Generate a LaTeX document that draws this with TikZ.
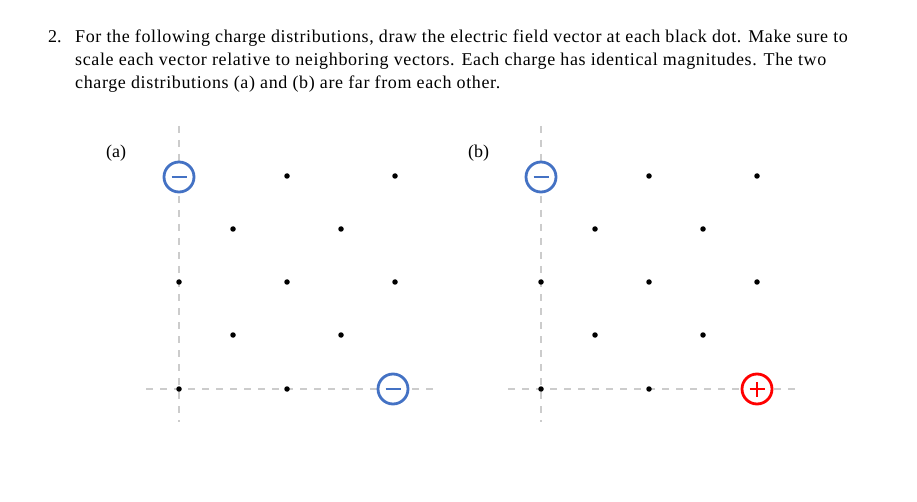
\documentclass[tikz,border=0pt]{standalone}
\usepackage{fontspec}
\setmainfont{Liberation Serif}
\definecolor{qblue}{HTML}{4472C4}
\begin{document}
\begin{tikzpicture}[x=1pt,y=-1pt,
  txt/.style={anchor=base west,inner sep=0,font=\fontsize{18}{20}\selectfont},
  dot/.style={circle,fill=black,inner sep=0,minimum size=5.5},
  guide/.style={draw=black!20,line width=1.6,dash pattern=on 7 off 7},
  negcharge/.style={circle,draw=qblue,line width=2.8,minimum size=30,inner sep=0,fill=white},
  poscharge/.style={circle,draw=red,line width=2.8,minimum size=30,inner sep=0,fill=white}]
\useasboundingbox (0,0) rectangle (917,502);
\node[txt] (n) at (48,43) {2.};
\node[txt] (l1) at (75,43) {\addfontfeature{LetterSpace=3.5}For the following charge distributions, draw the electric field vector at each black dot. Make sure to};
\node[txt] (l2) at (75,66) {\addfontfeature{LetterSpace=3.5}scale each vector relative to neighboring vectors. Each charge has identical magnitudes. The two};
\node[txt] (l3) at (75,89) {\addfontfeature{LetterSpace=3.5}charge distributions (a) and (b) are far from each other.};
\foreach \ox/\lab in {0/a,362/b}{
  \begin{scope}[xshift=\ox]
  \node[txt] (lab\lab) at (106,158) {(\lab)};
  \coordinate (vt\lab) at (179,126); \coordinate (vb\lab) at (179,422);
  \coordinate (hl\lab) at (146,389); \coordinate (hr\lab) at (440,389);
  \draw[guide] (vt\lab) -- (vb\lab);
  \draw[guide] (hl\lab) -- (hr\lab);
  \foreach \x/\y [count=\i] in {287/176,395/176,233/229,341/229,179/282,287/282,395/282,233/335,341/335,179/389,287/389}
    \node[dot] (d\lab\i) at (\x,\y) {};
  \node[negcharge] (q1\lab) at (179,177) {};
  \draw[qblue,line width=2.8] ([xshift=-7.5]q1\lab.center) -- ([xshift=7.5]q1\lab.center);
  \end{scope}}
\node[negcharge] (q2a) at (393,389) {};
\draw[qblue,line width=2.8] ([xshift=-7.5]q2a.center) -- ([xshift=7.5]q2a.center);
\node[poscharge] (q2b) at (757,389) {};
\draw[red,line width=2.8] ([xshift=-7.5]q2b.center) -- ([xshift=7.5]q2b.center) ([yshift=-7.5]q2b.center) -- ([yshift=7.5]q2b.center);
\end{tikzpicture}
\end{document}
